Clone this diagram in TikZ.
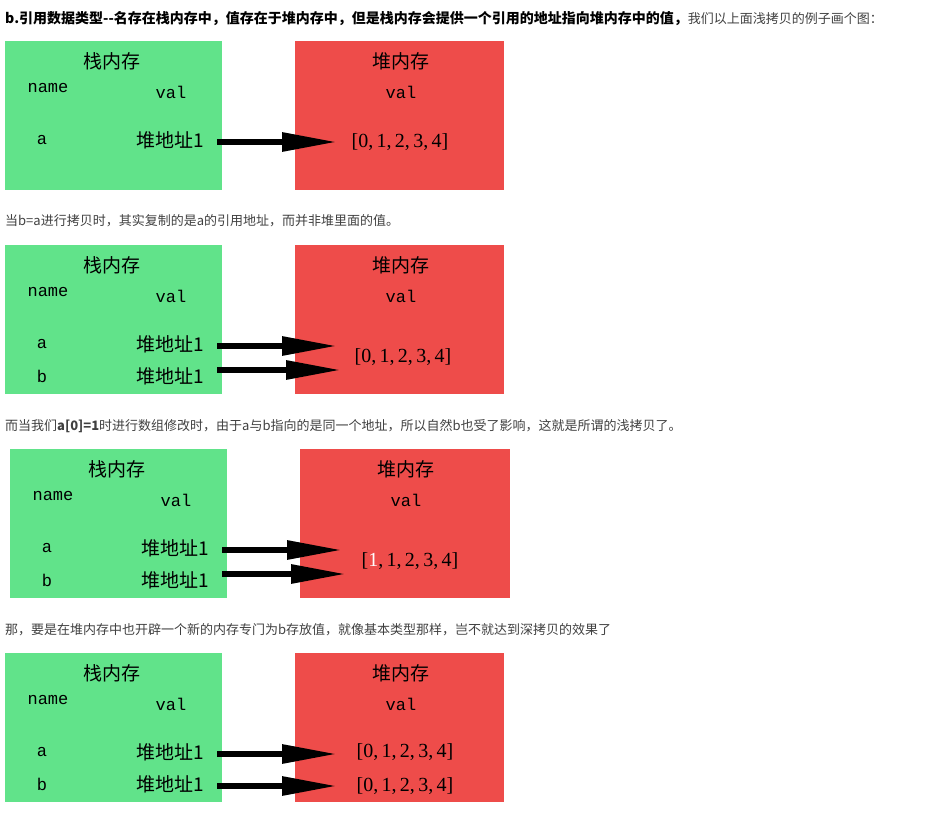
\documentclass[tikz,border=0pt]{standalone}
\usepackage{fontspec}
\setmainfont{Liberation Serif}
\setmonofont{Liberation Mono}
\newfontfamily\cjk{Noto Sans CJK SC}
\usetikzlibrary{arrows.meta}
\definecolor{gbox}{HTML}{61E38A}
\definecolor{rbox}{HTML}{EE4C4A}
\tikzset{
  gbx/.style={fill=gbox,draw=none},
  rbx/.style={fill=rbox,draw=none},
  ttl/.style={font=\cjk\fontsize{19}{19}\selectfont,inner sep=0},
  lbl/.style={font=\ttfamily\fontsize{17}{17}\selectfont,inner sep=0},
  addr/.style={font=\cjk\fontsize{19}{19}\selectfont,inner sep=0},
  arr/.style={font=\fontsize{20}{20}\selectfont,inner sep=0},
  captxt/.style={font=\cjk\fontsize{13}{13}\selectfont,text=black!75,anchor=west,inner sep=0},
  ptr/.style={line width=6pt,-{Triangle[length=55pt,width=18pt]}},
}
\begin{document}
\begin{tikzpicture}[x=1pt,y=-1pt]
\useasboundingbox (0,0) rectangle (950,813);
\node[captxt,font=\cjk\bfseries\fontsize{14}{14}\selectfont,text=black] (c1) at (5,19) {b.引用数据类型--名存在栈内存中，值存在于堆内存中，但是栈内存会提供一个引用的地址指向堆内存中的值，\mdseries\fontsize{13}{13}\selectfont\color{black!75}我们以上面浅拷贝的例子画个图：};
% panel 1
\fill[gbx] (5,41) rectangle (222,190);
\fill[rbx] (295,41) rectangle (504,190);
\node[ttl] (s1) at (112,61) {栈内存};
\node[ttl] (h1) at (401,61) {堆内存};
\node[lbl] (n1) at (48,88) {name};
\node[lbl] (v1) at (171,92) {val};
\node[lbl] (hv1) at (401,92) {val};
\node[lbl] (a1) at (42,140) {a};
\node[addr] (d1) at (170,140) {堆地址1};
\node[arr] (x1) at (400,142) {[0,\,1,\,2,\,3,\,4]};
\coordinate (e1) at (337,142);
\coordinate (o1) at (217,142);
\draw[ptr] (o1) -- (e1);
\node[captxt] (c2) at (5,221) {当b=a进行拷贝时，其实复制的是a的引用地址，而并非堆里面的值。};
% panel 2
\fill[gbx] (5,245) rectangle (222,394);
\fill[rbx] (295,245) rectangle (504,394);
\node[ttl] (s2) at (112,265) {栈内存};
\node[ttl] (h2) at (401,265) {堆内存};
\node[lbl] (n2) at (48,292) {name};
\node[lbl] (v2) at (171,296) {val};
\node[lbl] (hv2) at (401,296) {val};
\node[lbl] (a2) at (42,344) {a};
\node[lbl] (b2) at (42,376) {b};
\node[addr] (d2) at (170,344) {堆地址1};
\node[addr] (f2) at (170,376) {堆地址1};
\node[arr] (x2) at (403,357) {[0,\,1,\,2,\,3,\,4]};
\coordinate (e2) at (337,346);
\coordinate (g2) at (341,370);
\coordinate (o2) at (217,346);
\coordinate (p2) at (217,370);
\draw[ptr] (o2) -- (e2);
\draw[ptr] (p2) -- (g2);
\node[captxt] (c3) at (5,426) {而当我们\textbf{a[0]=1}时进行数组修改时，由于a与b指向的是同一个地址，所以自然b也受了影响，这就是所谓的浅拷贝了。};
% panel 3
\fill[gbx] (10,449) rectangle (227,598);
\fill[rbx] (300,449) rectangle (510,598);
\node[ttl] (s3) at (117,469) {栈内存};
\node[ttl] (h3) at (406,469) {堆内存};
\node[lbl] (n3) at (53,496) {name};
\node[lbl] (v3) at (176,500) {val};
\node[lbl] (hv3) at (406,500) {val};
\node[lbl] (a3) at (47,548) {a};
\node[lbl] (b3) at (47,580) {b};
\node[addr] (d3) at (175,548) {堆地址1};
\node[addr] (f3) at (175,580) {堆地址1};
\node[arr] (x3) at (410,561) {[\textcolor{white}{1},\,1,\,2,\,3,\,4]};
\coordinate (e3) at (342,550);
\coordinate (g3) at (346,574);
\coordinate (o3) at (222,550);
\coordinate (p3) at (222,574);
\draw[ptr] (o3) -- (e3);
\draw[ptr] (p3) -- (g3);
\node[captxt] (c4) at (5,630) {那，要是在堆内存中也开辟一个新的内存专门为b存放值，就像基本类型那样，岂不就达到深拷贝的效果了};
% panel 4
\fill[gbx] (5,653) rectangle (222,802);
\fill[rbx] (295,653) rectangle (504,802);
\node[ttl] (s4) at (112,673) {栈内存};
\node[ttl] (h4) at (401,673) {堆内存};
\node[lbl] (n4) at (48,700) {name};
\node[lbl] (v4) at (171,704) {val};
\node[lbl] (hv4) at (401,704) {val};
\node[lbl] (a4) at (42,752) {a};
\node[lbl] (b4) at (42,784) {b};
\node[addr] (d4) at (170,752) {堆地址1};
\node[addr] (f4) at (170,784) {堆地址1};
\node[arr] (x4) at (405,752) {[0,\,1,\,2,\,3,\,4]};
\node[arr] (y4) at (405,786) {[0,\,1,\,2,\,3,\,4]};
\coordinate (e4) at (337,754);
\coordinate (g4) at (337,786);
\coordinate (o4) at (217,754);
\coordinate (p4) at (217,786);
\draw[ptr] (o4) -- (e4);
\draw[ptr] (p4) -- (g4);
\end{tikzpicture}
\end{document}
